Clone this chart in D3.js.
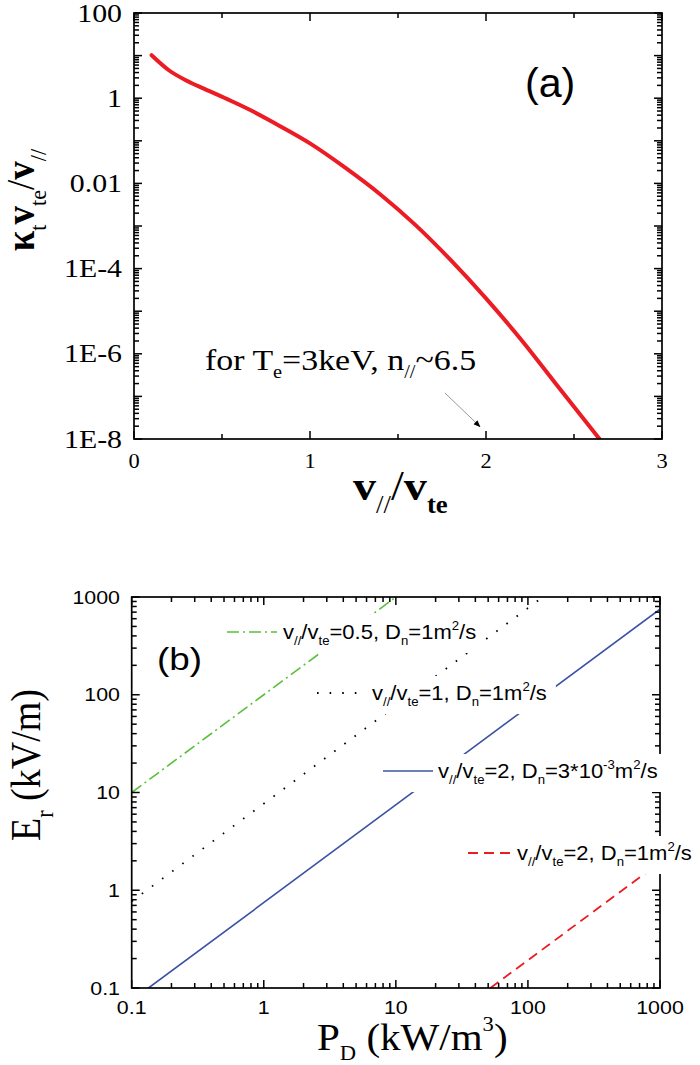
<!DOCTYPE html>
<html><head><meta charset="utf-8">
<script src="https://cdn.jsdelivr.net/npm/d3@7"></script>
<style>body{margin:0;background:#fff} text{white-space:pre}</style>
</head><body><svg id="c" width="700" height="1065"></svg>
<script>
// ---------- data: panel (a) ----------
const aVpar = [0.1, 0.2, 0.3, 0.4, 0.55, 0.68, 0.81, 1.0, 1.2, 1.4, 1.6, 1.8, 2.0, 2.2, 2.4, 2.645];
const aKappa = [10.2, 4.47, 2.57, 1.66, 0.87, 0.48, 0.245, 0.087, 0.0234, 0.0055, 1.05e-3, 1.58e-4, 2.0e-5, 2.14e-6, 1.9e-7, 1.0e-8];
const aXTicks = [0, 1, 2, 3];
const aXMinor = [0.5, 1.5, 2.5];
const aXTickLabels = ["0", "1", "2", "3"];
const aYTicks = [100, 1, 0.01, 1e-4, 1e-6, 1e-8];
const aYTickLabels = ["100", "1", "0.01", "1E-4", "1E-6", "1E-8"];
const aArrowFrom = [1.767, 1.2e-7];
const aArrowTo = [1.966, 1.95e-8];

// ---------- data: panel (b) ----------
const bGreenP = [0.1, 10];     const bGreenE = [10, 1000];
const bBlackP = [0.1, 130];    const bBlackE = [0.77, 1000];
const bBlueP  = [0.134, 1000]; const bBlueE  = [0.1, 750];
const bRedP   = [52, 1000];    const bRedE   = [0.1, 1.93];
const bTicks = [0.1, 1, 10, 100, 1000];
const bTickLabels = ["0.1", "1", "10", "100", "1000"];

const SERIF = "'Liberation Serif','Times New Roman',serif";
const SANS = "'Liberation Sans',Arial,sans-serif";
const svg = d3.select("#c");
const layerA = svg.append("g");
const layerB = svg.append("g");
const tickLayer = svg.append("g");
const legendLayer = svg.append("g");

function rich(parent, x, y, segs, o) {
  const g = parent.append("g").attr("transform",
    `translate(${x},${y}) scale(${o.sx || 1},1)` + (o.rot ? ` rotate(${o.rot})` : ""));
  const t = g.append("text").attr("font-family", o.family).attr("font-size", o.size)
    .attr("font-weight", o.weight || "normal").attr("text-anchor", o.anchor || "start")
    .attr("fill", o.fill || "#000");
  let cur = 0;
  segs.forEach(s => {
    const k = s.k || "n";
    const shift = k === "sub" ? o.size * (o.subShift || 0.3) : k === "sup" ? -o.size * (o.supShift || 0.42) : 0;
    const ts = t.append("tspan").text(s.t).attr("dy", shift - cur)
      .attr("font-size", k === "n" ? o.size : o.size * (o.subSize || 0.62));
    if (s.b !== undefined) ts.attr("font-weight", s.b ? "bold" : "normal");
    cur = shift;
  });
  return { g, t };
}

function minorLog(lo, hi) {
  const out = [];
  for (let d = lo; d < hi; d++) for (let k = 2; k <= 9; k++) out.push(k * Math.pow(10, d));
  return out;
}
function decades(lo, hi) { const o = []; for (let d = lo; d <= hi; d++) o.push(Math.pow(10, d)); return o; }

// frame with inward ticks on all four sides; ticks are small filled bars placed by the scales
function frame(x, y, xMaj, xMin, yMaj, yMin) {
  const xr = x.range(), yr = y.range();
  const L = xr[0], R = xr[1], B = yr[0], T = yr[1];
  const tw = 1.5;
  const fg = tickLayer.append("g").attr("fill", "#000");
  const xt = (vals, len) => vals.forEach(v => {
    const px = x(v) - tw / 2;
    fg.append("rect").attr("x", px).attr("y", B - len).attr("width", tw).attr("height", len);
    fg.append("rect").attr("x", px).attr("y", T).attr("width", tw).attr("height", len);
  });
  const yt = (vals, len) => vals.forEach(v => {
    const py = y(v) - tw / 2;
    fg.append("rect").attr("x", L).attr("y", py).attr("width", len).attr("height", tw);
    fg.append("rect").attr("x", R - len).attr("y", py).attr("width", len).attr("height", tw);
  });
  xt(xMaj, 8); xt(xMin, 5); yt(yMaj, 8); yt(yMin, 5);
  tickLayer.append("rect").attr("x", L).attr("y", T).attr("width", R - L).attr("height", B - T)
    .attr("fill", "none").attr("stroke", "#000").attr("stroke-width", 1.7);
}

// ================= panel (a) =================
const xA = d3.scaleLinear().domain([0, 3]).range([134, 662]);
const yA = d3.scaleLog().domain([1e-8, 100]).range([439, 13]);
svg.append("clipPath").attr("id", "clipA").append("rect")
  .attr("x", 134).attr("y", 13).attr("width", 528).attr("height", 426);

layerA.append("path").datum(aVpar.map((v, i) => [v, aKappa[i]]))
  .attr("clip-path", "url(#clipA)")
  .attr("fill", "none").attr("stroke", "#ec1c24").attr("stroke-width", 4)
  .attr("stroke-linejoin", "round").attr("stroke-linecap", "round")
  .attr("d", d3.line().x(d => xA(d[0])).y(d => yA(d[1])).curve(d3.curveMonotoneX));

frame(xA, yA, aXTicks, aXMinor, decades(-8, 2), minorLog(-8, 2));

aXTicks.forEach((v, i) => rich(layerA, xA(v), 468, [{ t: aXTickLabels[i] }],
  { family: SERIF, size: 20, anchor: "middle", sx: 1.12 }));
aYTicks.forEach((v, i) => rich(layerA, 122, yA(v) + 8.5, [{ t: aYTickLabels[i] }],
  { family: SERIF, size: 25.5, anchor: "end", sx: 1.17 }));

rich(layerA, 525, 97, [{ t: "(a)" }], { family: SANS, size: 40, sx: 1.03 });

// annotation
rich(layerA, 205, 370, [{ t: "for T" }, { t: "e", k: "sub" }, { t: "=3keV, n" }, { t: "//", k: "sub" }, { t: "~6.5" }],
  { family: SERIF, size: 30, sx: 1.13, subSize: 0.6, subShift: 0.28 });
const mdefs = svg.append("defs");
mdefs.append("marker").attr("id", "ah").attr("viewBox", "0 0 10 10").attr("refX", 9).attr("refY", 5)
  .attr("markerWidth", 7).attr("markerHeight", 7).attr("orient", "auto-start-reverse")
  .append("path").attr("d", "M0,1 L10,5 L0,9 Z").attr("fill", "#000");
layerA.append("line").attr("x1", xA(aArrowFrom[0])).attr("y1", yA(aArrowFrom[1]))
  .attr("x2", xA(aArrowTo[0])).attr("y2", yA(aArrowTo[1]))
  .attr("stroke", "#999").attr("stroke-width", 1).attr("marker-end", "url(#ah)");

// axis titles (a)
rich(layerA, 353, 500, [{ t: "v", b: true }, { t: "//", k: "sub", b: false }, { t: "/", b: false }, { t: "v", b: true }, { t: "te", k: "sub", b: true }],
  { family: SERIF, size: 42, weight: "bold", sx: 1.1, subSize: 0.58, subShift: 0.3 });
rich(layerA, 34, 200, [{ t: "κ" }, { t: "t", k: "sub", b: false }, { t: "v" }, { t: "te", k: "sub", b: false }, { t: "/", b: false }, { t: "v" }, { t: "//", k: "sub", b: false }],
  { family: SERIF, size: 37, weight: "bold", sx: 1.08, rot: -90, anchor: "middle", subSize: 0.6, subShift: 0.3 });

// ================= panel (b) =================
const xB = d3.scaleLog().domain([0.1, 1000]).range([131.7, 660]);
const yB = d3.scaleLog().domain([0.1, 1000]).range([988, 597]);
svg.append("clipPath").attr("id", "clipB").append("rect")
  .attr("x", 131.7).attr("y", 597).attr("width", 528.3).attr("height", 391);

const series = [
  { P: bGreenP, E: bGreenE, color: "#5cbf3c", dash: "12,4,2,4", w: 1.6 },
  { P: bBlackP, E: bBlackE, color: "#000", dash: "1.6,11", w: 1.8 },
  { P: bBlueP, E: bBlueE, color: "#3c53a4", dash: null, w: 1.6 },
  { P: bRedP, E: bRedE, color: "#ec1c24", dash: "10,6", w: 1.8 }
];
const lineB = d3.line().x(d => xB(d[0])).y(d => yB(d[1]));
series.forEach(s => {
  layerB.append("path").datum(s.P.map((p, i) => [p, s.E[i]])).attr("clip-path", "url(#clipB)")
    .attr("fill", "none").attr("stroke", s.color).attr("stroke-width", s.w)
    .attr("stroke-dasharray", s.dash).attr("d", lineB);
});

frame(xB, yB, bTicks, minorLog(-1, 3), bTicks, minorLog(-1, 3));

bTicks.forEach((v, i) => {
  rich(layerB, xB(v), 1014, [{ t: bTickLabels[i] }], { family: SANS, size: 18.6, anchor: "middle", sx: 1.15 });
  rich(layerB, 120, yB(v) + 6.7, [{ t: bTickLabels[i] }], { family: SANS, size: 18.6, anchor: "end", sx: 1.15 });
});

rich(layerB, 157, 670, [{ t: "(b)" }], { family: SANS, size: 32, sx: 1.15 });

// legend (white boxes hide the lines and axis behind them)
const legends = [
  { s: series[0], y: 632, x0: 227, x1: 277, tx: 283, segs: [{ t: "v" }, { t: "//", k: "sub" }, { t: "/v" }, { t: "te", k: "sub" }, { t: "=0.5, D" }, { t: "n", k: "sub" }, { t: "=1m" }, { t: "2", k: "sup" }, { t: "/s" }] },
  { s: series[1], y: 693, x0: 317, x1: 363, tx: 372, segs: [{ t: "v" }, { t: "//", k: "sub" }, { t: "/v" }, { t: "te", k: "sub" }, { t: "=1, D" }, { t: "n", k: "sub" }, { t: "=1m" }, { t: "2", k: "sup" }, { t: "/s" }] },
  { s: series[2], y: 771, x0: 383, x1: 433, tx: 438, segs: [{ t: "v" }, { t: "//", k: "sub" }, { t: "/v" }, { t: "te", k: "sub" }, { t: "=2, D" }, { t: "n", k: "sub" }, { t: "=3*10" }, { t: "-3", k: "sup" }, { t: "m" }, { t: "2", k: "sup" }, { t: "/s" }] },
  { s: series[3], y: 853, x0: 468, x1: 513, tx: 517, segs: [{ t: "v" }, { t: "//", k: "sub" }, { t: "/v" }, { t: "te", k: "sub" }, { t: "=2, D" }, { t: "n", k: "sub" }, { t: "=1m" }, { t: "2", k: "sup" }, { t: "/s" }] }
];
legends.forEach(L => {
  const lg = legendLayer.append("g");
  const rect = lg.append("rect").attr("fill", "#fff");
  lg.append("line").attr("x1", L.x0).attr("x2", L.x1).attr("y1", L.y).attr("y2", L.y)
    .attr("stroke", L.s.color).attr("stroke-width", L.s.w).attr("stroke-dasharray", L.s.dash);
  const sx = 1.1;
  const { t } = rich(lg, L.tx, L.y + 7, L.segs, { family: SANS, size: 20, sx: sx, subSize: 0.6, subShift: 0.3, supShift: 0.45 });
  const w = t.node().getComputedTextLength() * sx;
  rect.attr("x", L.x0 - 5).attr("y", L.y - 17).attr("width", L.tx + w + 9 - (L.x0 - 5)).attr("height", 38);
});

// axis titles (b)
rich(layerB, 317, 1050, [{ t: "P" }, { t: "D", k: "sub" }, { t: " (kW/m" }, { t: "3", k: "sup" }, { t: ")" }],
  { family: SERIF, size: 38, sx: 1.08, subSize: 0.55, subShift: 0.25, supShift: 0.5 });
rich(layerB, 40, 765, [{ t: "E" }, { t: "r", k: "sub" }, { t: " (kV/m)" }],
  { family: SERIF, size: 38, sx: 1.1, rot: -90, anchor: "middle", subSize: 0.58, subShift: 0.3 });
</script></body></html>
